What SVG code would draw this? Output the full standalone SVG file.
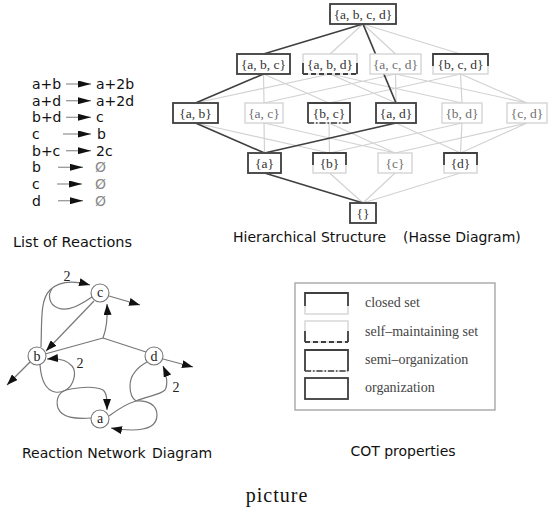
<svg xmlns="http://www.w3.org/2000/svg" width="550" height="512" viewBox="0 0 550 512">
<defs>
<marker id="ah" markerUnits="userSpaceOnUse" markerWidth="11" markerHeight="8" refX="11" refY="4" orient="auto"><path d="M0,0 L11,4 L0,8 z" fill="#111"/></marker>
<marker id="ah2" markerUnits="userSpaceOnUse" markerWidth="13" markerHeight="7" refX="13" refY="3.5" orient="auto"><path d="M0,0 L13,3.5 L0,7 z" fill="#111"/></marker>
<style>
.sans{font-family:"DejaVu Sans",sans-serif;font-size:14px;fill:#111}
.ser{font-family:"Liberation Serif","Times New Roman",serif}
.hl{stroke:#d2d2d2;stroke-width:1.2;fill:none}
.hd{stroke:#404040;stroke-width:1.7;fill:none}
.bx{fill:#fff;stroke:#d2d2d2;stroke-width:1.3}
.dk{fill:none;stroke:#404040;stroke-width:1.8}
.dash{fill:none;stroke:#404040;stroke-width:1.8;stroke-dasharray:5,3}
.dd{fill:none;stroke:#404040;stroke-width:1.6;stroke-dasharray:6,2,1.5,2}
.bt{font-family:"Liberation Serif","Times New Roman",serif;font-size:13.5px;text-anchor:middle;fill:#333}
.bt.lt{fill:#707070}
.ne{fill:none;stroke:#777;stroke-width:1.2}
.nd{fill:#fff;stroke:#777;stroke-width:1.1}
.nl{font-family:"Liberation Serif","Times New Roman",serif;font-size:14px;text-anchor:middle;fill:#222}
.ra{stroke:#999;stroke-width:1.3;fill:none}
.lg{font-family:"Liberation Serif","Times New Roman",serif;font-size:14px;fill:#444}
</style>
</defs>

<!-- List of reactions -->
<g id="reactions">
<g class="sans">
<text x="32" y="89">a+b</text><text x="96" y="89">a+2b</text>
<text x="32" y="105.7">a+d</text><text x="96" y="105.7">a+2d</text>
<text x="32" y="122.3">b+d</text><text x="96" y="122.3">c</text>
<text x="32" y="139">c</text><text x="97" y="139">b</text>
<text x="32" y="155.7">b+c</text><text x="96" y="155.7">2c</text>
<text x="32" y="172.3">b</text><text x="95" y="172.3" style="fill:#888">Ø</text>
<text x="32" y="189">c</text><text x="95" y="189" style="fill:#888">Ø</text>
<text x="32" y="205.7">d</text><text x="95" y="205.7" style="fill:#888">Ø</text>
</g>
<g marker-end="url(#ah2)">
<line class="ra" x1="66" y1="84" x2="91" y2="84"/>
<line class="ra" x1="66" y1="100.7" x2="91" y2="100.7"/>
<line class="ra" x1="66" y1="117.3" x2="91" y2="117.3"/>
<line class="ra" x1="63" y1="134" x2="91" y2="134"/>
<line class="ra" x1="66" y1="150.7" x2="91" y2="150.7"/>
<line class="ra" x1="58" y1="167.3" x2="83" y2="167.3"/>
<line class="ra" x1="57" y1="184" x2="82" y2="184"/>
<line class="ra" x1="58" y1="200.7" x2="83" y2="200.7"/>
</g>
<text class="sans" x="13" y="247" style="font-size:14.5px">List of Reactions</text>
</g>

<!-- Hasse connectors -->
<g id="hasse-edges">
<path class="hl" d="M363,24 L330,54 M363,24 L395.5,54 M363,24 L460.5,54
M263.5,74 L264,103 M263.5,74 L329,103
M330,74 L195.5,103 M330,74 L396,103 M330,74 L462,103
M395.5,74 L264,103 M395.5,74 L396,103 M395.5,74 L527,103
M460.5,74 L329,103 M460.5,74 L462,103 M460.5,74 L527,103
M195.5,123 L329.5,153 M264,123 L264.5,153 M264,123 L395,153
M329,123 L329.5,153 M329,123 L395,153 M396,123 L460.5,153
M462,123 L329.5,153 M462,123 L460.5,153 M527,123 L395,153 M527,123 L460.5,153
M329.5,173 L363,203 M395,173 L363,203 M460.5,173 L363,203"/>
<path class="hd" d="M363,24 L263.5,54 M363,24 L396,103 M263.5,74 L195.5,103 M195.5,123 L264.5,153 M396,123 L264.5,153 M264.5,173 L363,203"/>
</g>

<!-- Hasse nodes -->
<g id="n-abcd"><rect class="bx" x="330" y="4" width="66" height="20"/><rect class="dk" x="330" y="4" width="66" height="20"/><text class="bt" x="363" y="18.5">{a, b, c, d}</text></g>
<g id="n-abc"><rect class="bx" x="237" y="54" width="53" height="20"/><rect class="dk" x="237" y="54" width="53" height="20"/><text class="bt" x="263.5" y="68.5">{a, b, c}</text></g>
<g id="n-abd"><rect class="bx" x="303" y="54" width="54" height="20"/><path class="dk" d="M303,63 V74 M357,63 V74"/><path class="dash" d="M303,74 H357"/><text class="bt" x="330" y="68.5">{a, b, d}</text></g>
<g id="n-acd"><rect class="bx" x="370" y="54" width="51" height="20"/><text class="bt lt" x="395.5" y="68.5">{a, c, d}</text></g>
<g id="n-bcd"><rect class="bx" x="433" y="54" width="55" height="20"/><path class="dk" d="M433,66 V54 H488 V66"/><text class="bt" x="460.5" y="68.5">{b, c, d}</text></g>
<g id="n-ab"><rect class="bx" x="173" y="103" width="45" height="20"/><rect class="dk" x="173" y="103" width="45" height="20"/><text class="bt" x="195.5" y="117.5">{a, b}</text></g>
<g id="n-ac"><rect class="bx" x="245" y="103" width="38" height="20"/><text class="bt lt" x="264" y="117.5">{a, c}</text></g>
<g id="n-bc"><rect class="bx" x="308" y="103" width="42" height="20"/><path class="dk" d="M308,123 V103 H350 V123"/><path class="dd" d="M308,123 H350"/><text class="bt" x="329" y="117.5">{b, c}</text></g>
<g id="n-ad"><rect class="bx" x="376" y="103" width="40" height="20"/><rect class="dk" x="376" y="103" width="40" height="20"/><text class="bt" x="396" y="117.5">{a, d}</text></g>
<g id="n-bd"><rect class="bx" x="442" y="103" width="40" height="20"/><text class="bt lt" x="462" y="117.5">{b, d}</text></g>
<g id="n-cd"><rect class="bx" x="507" y="103" width="40" height="20"/><text class="bt lt" x="527" y="117.5">{c, d}</text></g>
<g id="n-a"><rect class="bx" x="248" y="153" width="33" height="20"/><rect class="dk" x="248" y="153" width="33" height="20"/><text class="bt" x="264.5" y="167.5">{a}</text></g>
<g id="n-b"><rect class="bx" x="313" y="153" width="33" height="20"/><path class="dk" d="M313,165 V153 H346 V165"/><text class="bt" x="329.5" y="167.5">{b}</text></g>
<g id="n-c"><rect class="bx" x="378" y="153" width="34" height="20"/><text class="bt lt" x="395" y="167.5">{c}</text></g>
<g id="n-d"><rect class="bx" x="444" y="153" width="33" height="20"/><path class="dk" d="M444,165 V153 H477 V165"/><text class="bt" x="460.5" y="167.5">{d}</text></g>
<g id="n-empty"><rect class="bx" x="350" y="203" width="26" height="20"/><rect class="dk" x="350" y="203" width="26" height="20"/><text class="bt" x="363" y="217.5">{}</text></g>
<text class="sans" x="233" y="242">Hierarchical Structure</text>
<text class="sans" x="403" y="242">(Hasse Diagram)</text>

<!-- Reaction network connectors -->
<g id="net-edges">
<path class="ne" d="M41,347 C42,320 40,300 50,290 C58,282 72,280 90,285" marker-end="url(#ah)"/>
<path class="ne" d="M92,297 C80,305 68,312 58,308 C48,304 48,294 52,289"/>
<path class="ne" d="M94,301 L46,351" marker-end="url(#ah)"/>
<path class="ne" d="M45,354 L103,338 M146,352 L103,338"/>
<path class="ne" d="M103,338 C106,330 108,322 107,304" marker-end="url(#ah)"/>
<path class="ne" d="M109,296 L140,305" marker-end="url(#ah)"/>
<path class="ne" d="M163,359 L193,367" marker-end="url(#ah)"/>
<path class="ne" d="M30,362 L7,385" marker-end="url(#ah)"/>
<path class="ne" d="M40,365 C41,378 45,390 55,392 C60,393 64,391 66,390"/>
<path class="ne" d="M91,418 C75,419 62,418 58,408 C55,398 60,392 66,390"/>
<path class="ne" d="M66,390 C74,385 77,372 72,366 C67,360 58,358 47,359" marker-end="url(#ah)"/>
<path class="ne" d="M66,390 C80,387 95,386 103,390 C107,393 107,400 107,410" marker-end="url(#ah)"/>
<path class="ne" d="M109,416 C117,410 126,404 136,401"/>
<path class="ne" d="M147,362 C138,367 130,375 130,386 C130,394 133,399 136,401"/>
<path class="ne" d="M136,401 C148,400 157,405 157,415 C157,425 148,430 132,430 C124,430 116,429 111,428" marker-end="url(#ah)"/>
<path class="ne" d="M136,401 C148,396 160,395 165,390 C168,385 167,375 163,366" marker-end="url(#ah)"/>
<text class="nl" x="67" y="281">2</text>
<text class="nl" x="80" y="368">2</text>
<text class="nl" x="176" y="392">2</text>
</g>
<g id="node-c"><circle class="nd" cx="100" cy="293" r="9"/><text class="nl" x="100" y="297">c</text></g>
<g id="node-b"><circle class="nd" cx="37" cy="356" r="9"/><text class="nl" x="37" y="360.5">b</text></g>
<g id="node-d"><circle class="nd" cx="154" cy="356" r="9"/><text class="nl" x="154" y="360.5">d</text></g>
<g id="node-a"><circle class="nd" cx="100" cy="419" r="9"/><text class="nl" x="100" y="423">a</text></g>
<text class="sans" x="22" y="458">Reaction Network</text>
<text class="sans" x="152" y="458">Diagram</text>

<!-- Legend -->
<g id="legend">
<rect x="295" y="283" width="200" height="127" fill="#fff" stroke="#a0a0a0" stroke-width="1.3"/>
<rect class="bx" x="305" y="293" width="43" height="21"/><path class="dk" d="M305,306 V293 H348 V306"/>
<rect class="bx" x="305" y="321" width="43" height="21"/><path class="dk" d="M305,331 V342 M348,331 V342"/><path class="dash" d="M305,342 H348"/>
<rect class="bx" x="305" y="350" width="43" height="21"/><path class="dk" d="M305,371 V350 H348 V371"/><path class="dd" d="M305,371 H348"/>
<rect class="bx" x="305" y="378" width="43" height="21"/><rect class="dk" x="305" y="378" width="43" height="21"/>
<text class="lg" x="365" y="307">closed set</text>
<text class="lg" x="365" y="336">self–maintaining set</text>
<text class="lg" x="365" y="364">semi–organization</text>
<text class="lg" x="365" y="392">organization</text>
</g>
<text class="sans" x="403" y="456" text-anchor="middle">COT properties</text>

<text x="277" y="502" text-anchor="middle" font-family="Liberation Serif, serif" font-size="20" letter-spacing="1" fill="#111">picture</text>
</svg>
